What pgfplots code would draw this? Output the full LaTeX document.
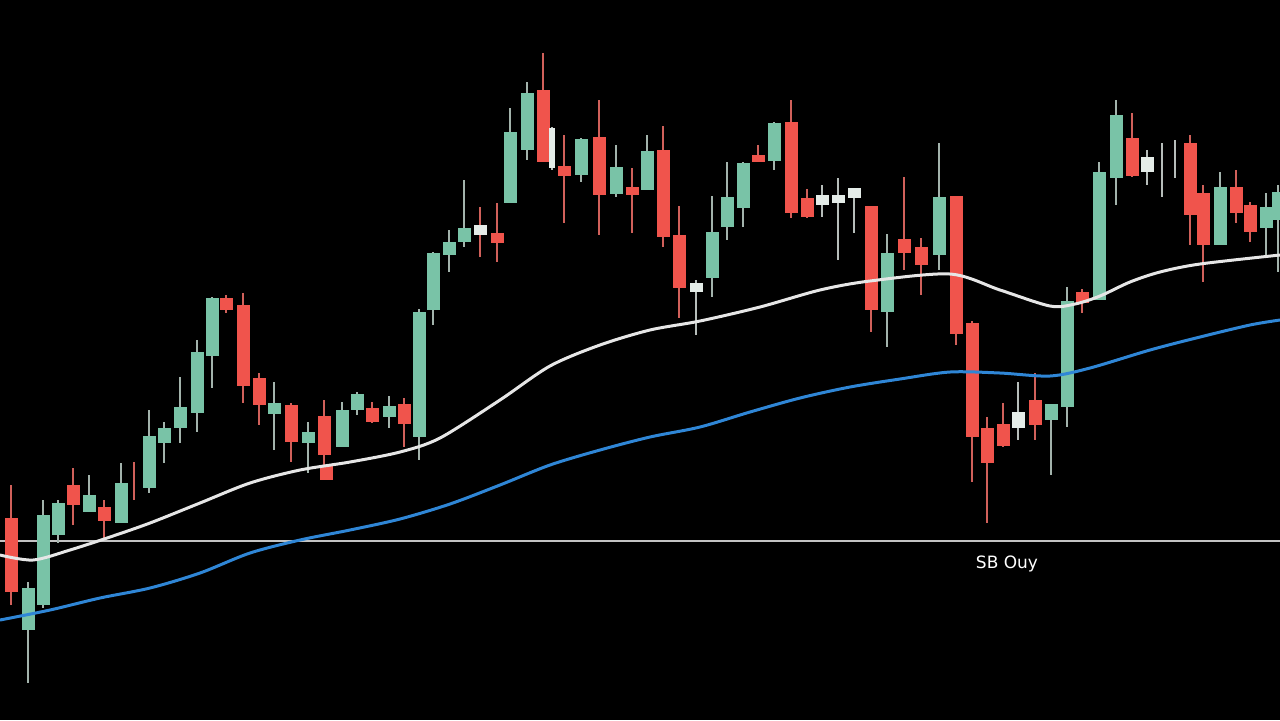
\documentclass[border=0pt]{standalone}
\usepackage{fontspec}
\setmainfont{DejaVu Sans}
\usepackage{pgfplots}
\pgfplotsset{compat=1.18}
\definecolor{cgreen}{HTML}{79C3A7}
\definecolor{cred}{HTML}{F0544C}
\definecolor{cwhite}{HTML}{E4ECE8}
\definecolor{wgreen}{HTML}{A3B3AC}
\definecolor{wred}{HTML}{D0605A}
\definecolor{mawhite}{HTML}{E6E6E6}
\definecolor{mablue}{HTML}{2F86D6}
\begin{document}
\begin{tikzpicture}
\begin{axis}[width=640pt,height=360pt,scale only axis,hide axis,
  xmin=0,xmax=1280,ymin=0,ymax=720,y dir=reverse,clip=true,
  unbounded coords=jump]
\fill[black] (rel axis cs:0,0) rectangle (rel axis cs:1,1);
% horizontal level line
\addplot[draw=mawhite!85!black, line width=0.9pt] coordinates {(0,541) (1280,541)};
% green wicks
\addplot[draw=wgreen, line width=1.3pt, line cap=butt] coordinates {
(28,582)(28,683)(28,nan)
(43,500)(43,608)(43,nan)
(58,500)(58,543)(58,nan)
(89,475)(89,512)(89,nan)
(121,463)(121,523)(121,nan)
(149,410)(149,493)(149,nan)
(164,422)(164,463)(164,nan)
(180,377)(180,443)(180,nan)
(197,340)(197,432)(197,nan)
(212,297)(212,388)(212,nan)
(274,382)(274,450)(274,nan)
(308,422)(308,473)(308,nan)
(342,402)(342,447)(342,nan)
(357,392)(357,415)(357,nan)
(389,396)(389,428)(389,nan)
(419,309)(419,460)(419,nan)
(433,252)(433,325)(433,nan)
(449,230)(449,272)(449,nan)
(464,180)(464,247)(464,nan)
(510,108)(510,203)(510,nan)
(527,82)(527,160)(527,nan)
(581,138)(581,182)(581,nan)
(616,145)(616,197)(616,nan)
(647,135)(647,190)(647,nan)
(712,196)(712,297)(712,nan)
(727,162)(727,240)(727,nan)
(743,162)(743,227)(743,nan)
(774,122)(774,170)(774,nan)
(887,234)(887,347)(887,nan)
(939,143)(939,270)(939,nan)
(1051,404)(1051,475)(1051,nan)
(1067,287)(1067,427)(1067,nan)
(1099,162)(1099,300)(1099,nan)
(1116,100)(1116,205)(1116,nan)
(1220,172)(1220,245)(1220,nan)
(1266,193)(1266,255)(1266,nan)
(1278,185)(1278,272)};
% red wicks
\addplot[draw=wred, line width=1.3pt, line cap=butt] coordinates {
(11,485)(11,605)(11,nan)
(73,468)(73,525)(73,nan)
(104,500)(104,538)(104,nan)
(134,462)(134,500)(134,nan)
(226,295)(226,313)(226,nan)
(243,293)(243,403)(243,nan)
(259,373)(259,425)(259,nan)
(291,403)(291,462)(291,nan)
(324,400)(324,480)(324,nan)
(372,402)(372,423)(372,nan)
(404,398)(404,447)(404,nan)
(480,207)(480,257)(480,nan)
(497,203)(497,262)(497,nan)
(543,53)(543,162)(543,nan)
(564,135)(564,223)(564,nan)
(599,100)(599,235)(599,nan)
(632,168)(632,233)(632,nan)
(663,126)(663,247)(663,nan)
(679,206)(679,318)(679,nan)
(758,145)(758,162)(758,nan)
(791,100)(791,218)(791,nan)
(807,189)(807,218)(807,nan)
(871,206)(871,332)(871,nan)
(904,177)(904,270)(904,nan)
(921,238)(921,295)(921,nan)
(956,196)(956,345)(956,nan)
(972,321)(972,482)(972,nan)
(987,417)(987,523)(987,nan)
(1003,403)(1003,447)(1003,nan)
(1035,373)(1035,440)(1035,nan)
(1082,289)(1082,313)(1082,nan)
(1132,113)(1132,177)(1132,nan)
(1190,135)(1190,245)(1190,nan)
(1203,185)(1203,282)(1203,nan)
(1236,170)(1236,223)(1236,nan)
(1250,202)(1250,242)};
% light wicks
\addplot[draw=cwhite!80!black, line width=1.3pt, line cap=butt] coordinates {
(552,127)(552,170)(552,nan)
(696,280)(696,335)(696,nan)
(822,185)(822,217)(822,nan)
(838,178)(838,260)(838,nan)
(854,188)(854,233)(854,nan)
(1018,382)(1018,440)(1018,nan)
(1147,150)(1147,185)(1147,nan)
(1162,143)(1162,197)(1162,nan)
(1175,140)(1175,178)};
% green bodies
\addplot[draw=cgreen, line width=6.5pt, line cap=butt] coordinates {
(28,588)(28,630)(28,nan)
(43,515)(43,605)(43,nan)
(58,503)(58,535)(58,nan)
(89,495)(89,512)(89,nan)
(121,483)(121,523)(121,nan)
(149,436)(149,488)(149,nan)
(164,428)(164,443)(164,nan)
(180,407)(180,428)(180,nan)
(197,352)(197,413)(197,nan)
(212,298)(212,356)(212,nan)
(274,403)(274,414)(274,nan)
(308,432)(308,443)(308,nan)
(342,410)(342,447)(342,nan)
(357,394)(357,410)(357,nan)
(389,406)(389,417)(389,nan)
(419,312)(419,437)(419,nan)
(433,253)(433,310)(433,nan)
(449,242)(449,255)(449,nan)
(464,228)(464,242)(464,nan)
(510,132)(510,203)(510,nan)
(527,93)(527,150)(527,nan)
(581,139)(581,175)(581,nan)
(616,167)(616,194)(616,nan)
(647,151)(647,190)(647,nan)
(712,232)(712,278)(712,nan)
(727,197)(727,227)(727,nan)
(743,163)(743,208)(743,nan)
(774,123)(774,161)(774,nan)
(887,253)(887,312)(887,nan)
(939,197)(939,255)(939,nan)
(1051,404)(1051,420)(1051,nan)
(1067,301)(1067,407)(1067,nan)
(1099,172)(1099,300)(1099,nan)
(1116,115)(1116,178)(1116,nan)
(1220,187)(1220,245)(1220,nan)
(1266,207)(1266,228)(1266,nan)
(1278,192)(1278,220)};
% red bodies
\addplot[draw=cred, line width=6.5pt, line cap=butt] coordinates {
(11,518)(11,592)(11,nan)
(73,485)(73,505)(73,nan)
(104,507)(104,521)(104,nan)
(226,298)(226,310)(226,nan)
(243,305)(243,386)(243,nan)
(259,378)(259,405)(259,nan)
(291,405)(291,442)(291,nan)
(324,416)(324,455)(324,nan)
(326,466)(326,480)(326,nan)
(372,408)(372,422)(372,nan)
(404,404)(404,424)(404,nan)
(497,233)(497,243)(497,nan)
(543,90)(543,162)(543,nan)
(564,166)(564,176)(564,nan)
(599,137)(599,195)(599,nan)
(632,187)(632,195)(632,nan)
(663,150)(663,237)(663,nan)
(679,235)(679,288)(679,nan)
(758,155)(758,162)(758,nan)
(791,122)(791,213)(791,nan)
(807,198)(807,217)(807,nan)
(871,206)(871,310)(871,nan)
(904,239)(904,253)(904,nan)
(921,247)(921,265)(921,nan)
(956,196)(956,334)(956,nan)
(972,323)(972,437)(972,nan)
(987,428)(987,463)(987,nan)
(1003,424)(1003,446)(1003,nan)
(1035,400)(1035,425)(1035,nan)
(1082,292)(1082,303)(1082,nan)
(1132,138)(1132,176)(1132,nan)
(1190,143)(1190,215)(1190,nan)
(1203,193)(1203,245)(1203,nan)
(1236,187)(1236,213)(1236,nan)
(1250,205)(1250,232)};
% light bodies
\addplot[draw=cwhite, line width=6.5pt, line cap=butt] coordinates {
(480,225)(480,235)(480,nan)
(696,283)(696,292)(696,nan)
(822,195)(822,205)(822,nan)
(838,195)(838,203)(838,nan)
(854,188)(854,198)(854,nan)
(1018,412)(1018,428)(1018,nan)
(1147,157)(1147,172)};
\addplot[draw=cwhite, line width=3pt, line cap=butt] coordinates {(552,128)(552,168)};
% moving averages
\addplot[draw=mablue, line width=1.5pt, smooth] coordinates {
(0,620)(50,610)(100,598)(150,588)(200,573)(250,553)(300,540)(350,530)
(400,519)(450,504)(500,485)(550,465)(600,450)(650,437)(700,427)(750,412)
(800,398)(850,387)(900,379)(950,372)(1000,373)(1050,376)(1090,368)
(1150,350)(1200,337)(1250,325)(1280,320)};
\addplot[draw=mawhite, line width=1.5pt, smooth] coordinates {
(0,555)(33,560)(70,550)(110,537)(150,523)(200,503)(250,483)(300,470)
(350,462)(400,452)(440,438)(500,400)(550,366)(600,345)(650,330)(700,321)
(760,307)(820,290)(870,281)(950,274)(1000,290)(1050,306)(1075,304)
(1100,296)(1130,282)(1160,272)(1200,264)(1280,255)};
\node[text=white, font=\fontsize{8.5}{10}\selectfont] at (axis cs:1007,564) {SB Ouy};
\end{axis}
\pgfresetboundingbox
\path (current axis.south west) rectangle (current axis.north east);
\end{tikzpicture}
\end{document}
